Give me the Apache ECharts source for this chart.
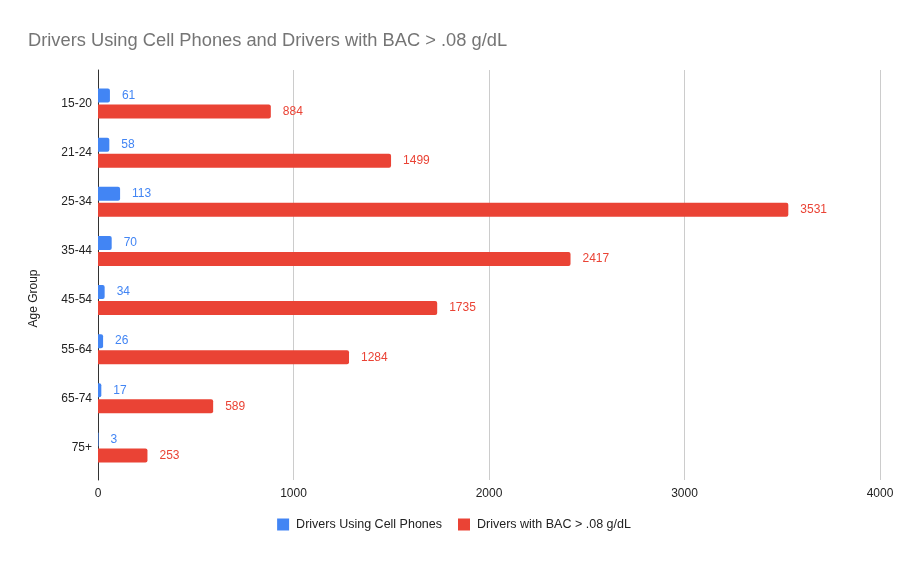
<!DOCTYPE html>
<html>
<head>
<meta charset="utf-8">
<script src="https://cdn.jsdelivr.net/npm/echarts@6/dist/echarts.min.js"></script>
<style>html,body{margin:0;padding:0;background:#fff;}#c{width:908px;height:561px;}</style>
</head>
<body>
<div id="c"></div>
<script>
const categories = ['15-20','21-24','25-34','35-44','45-54','55-64','65-74','75+'];
const cellPhones = [61, 58, 113, 70, 34, 26, 17, 3];
const bac = [884, 1499, 3531, 2417, 1735, 1284, 589, 253];
const xTicks = [0, 1000, 2000, 3000, 4000];

const chart = echarts.init(document.getElementById('c'));
const font = '"Liberation Sans", Arial, sans-serif';
chart.setOption({
  animation: false,
  textStyle: { fontFamily: font },
  title: {
    text: 'Drivers Using Cell Phones and Drivers with BAC > .08 g/dL',
    left: 23, top: 27,
    textStyle: { fontSize: 18.3, fontWeight: 'normal', color: '#757575', fontFamily: font }
  },
  legend: {
    bottom: 25, left: 'center',
    itemWidth: 12, itemHeight: 12, itemGap: 16,
    icon: 'rect',
    textStyle: { fontSize: 12.5, color: '#222', fontFamily: font, padding: [0, 0, 0, 2] },
    data: ['Drivers Using Cell Phones', 'Drivers with BAC > .08 g/dL']
  },
  grid: [
    { left: 98, right: 28, top: 79, bottom: 89, containLabel: false },
    { left: 98, right: 28, top: 70, bottom: 81, containLabel: false }
  ],
  xAxis: [
    {
      type: 'value', gridIndex: 0, min: xTicks[0], max: xTicks[xTicks.length - 1], interval: 1000,
      axisLine: { show: false }, axisTick: { show: false },
      axisLabel: { color: '#222', fontSize: 12, margin: 16, formatter: v => String(v) },
      splitLine: { show: false }
    },
    {
      type: 'value', gridIndex: 1, min: xTicks[0], max: xTicks[xTicks.length - 1], interval: 1000,
      axisLine: { show: false }, axisTick: { show: false }, axisLabel: { show: false },
      splitLine: { lineStyle: { color: '#cccccc' } }
    }
  ],
  yAxis: [
    {
      type: 'category', gridIndex: 0, data: categories, inverse: true,
      name: 'Age Group', nameLocation: 'middle', nameGap: 58,
      nameTextStyle: { color: '#222', fontSize: 12, padding: [0, 46, 0, 0] },
      axisLine: { show: false }, axisTick: { show: false },
      axisLabel: { color: '#222', fontSize: 12, margin: 6 }
    },
    {
      type: 'value', gridIndex: 1, min: 0, max: 1,
      axisLine: { show: true, lineStyle: { color: '#333' } }, axisTick: { show: false },
      axisLabel: { show: false }, splitLine: { show: false }
    }
  ],
  series: [
    {
      name: 'Drivers Using Cell Phones', type: 'bar', data: cellPhones,
      xAxisIndex: 0, yAxisIndex: 0, z: 3,
      barWidth: 14, barGap: '15%',
      itemStyle: { color: '#4285F4', borderRadius: [0, 2, 2, 0] },
      label: { show: true, position: 'right', distance: 12, color: '#4285F4', fontSize: 12 }
    },
    {
      name: 'Drivers with BAC > .08 g/dL', type: 'bar', data: bac,
      xAxisIndex: 0, yAxisIndex: 0, z: 3,
      barWidth: 14,
      itemStyle: { color: '#EA4335', borderRadius: [0, 2, 2, 0] },
      label: { show: true, position: 'right', distance: 12, color: '#EA4335', fontSize: 12 }
    }
  ]
});
</script>
</body>
</html>
